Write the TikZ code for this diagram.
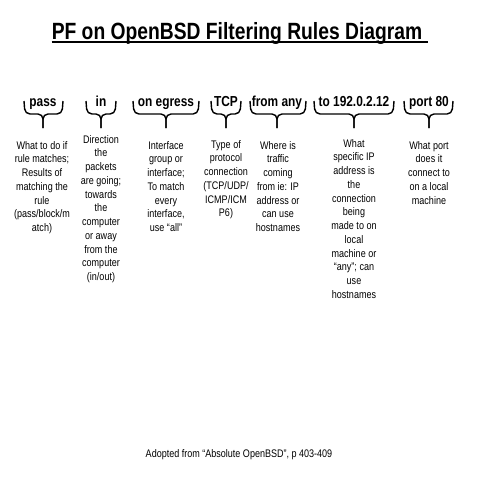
\documentclass[tikz,border=0pt]{standalone}
\usepackage{fontspec}
\setmainfont{Liberation Sans}[FakeStretch=0.82]

\begin{document}
\begin{tikzpicture}[x=1pt,y=-1pt,
    keyword/.style={anchor=base,inner sep=0pt,font=\fontsize{14.5}{17}\selectfont\bfseries},
    descr/.style={anchor=north,inner sep=0pt,align=center,font=\fontsize{11}{13.75}\selectfont},
    bracket/.style={line width=1.4pt,rounded corners=5pt}]

        % Background
        \draw[draw=none,fill=white] (0,0) rectangle (480,480);

        % Title
        \node[anchor=base,inner sep=0pt,font=\fontsize{23.5}{28}\selectfont\bfseries] (title) at (237,39) {PF on OpenBSD Filtering Rules Diagram};
        \draw[line width=1.2pt] ([yshift=-3pt]title.base west) -- ([yshift=-3pt,xshift=6pt]title.base east);

        % Keywords with braces
        \foreach \kw/\xa/\tip/\xb/\word in {pass/25/43/62/pass,in/87/101/115/in,egress/134/166/198/on egress,tcp/212/226/240/TCP,from/251/277/305/from any,to/315/354/393/to 192.0.2.12,port/405/429/452/port 80} {
            \node[keyword] (\kw) at (\tip,106) {\word};
            \draw[bracket] (\xa-1,101) -- (\xa,114) -- (\tip,114) -- (\tip,128);
            \draw[bracket] (\xb+1,101) -- (\xb,114) -- (\tip,114) -- (\tip,128);
        }

        % Descriptions
        \node[descr] (descpass) at (42,141) {What to do if\\rule matches;\\Results of\\matching the\\rule\\(pass/block/m\\atch)};
        \node[descr] (descin) at (101,135) {Direction\\the\\packets\\are going;\\towards\\the\\computer\\or away\\from the\\computer\\(in/out)};
        \node[descr] (descegress) at (166,141) {Interface\\group or\\interface;\\To match\\every\\interface,\\use “all”};
        \node[descr] (desctcp) at (226,140) {Type of\\protocol\\connection\\(TCP/UDP/\\ICMP/ICM\\P6)};
        \node[descr] (descfrom) at (278,141) {Where is\\traffic\\coming\\from ie: IP\\address or\\can use\\hostnames};
        \node[descr] (descto) at (354,139) {What\\specific IP\\address is\\the\\connection\\being\\made to on\\local\\machine or\\“any”; can\\use\\hostnames};
        \node[descr] (descport) at (429,141) {What port\\does it\\connect to\\on a local\\machine};

        % Source
        \node[anchor=base,inner sep=0pt,font=\fontsize{11}{13.75}\selectfont] (source) at (239,457) {Adopted from “Absolute OpenBSD”, p 403-409};

\end{tikzpicture}
\end{document}
